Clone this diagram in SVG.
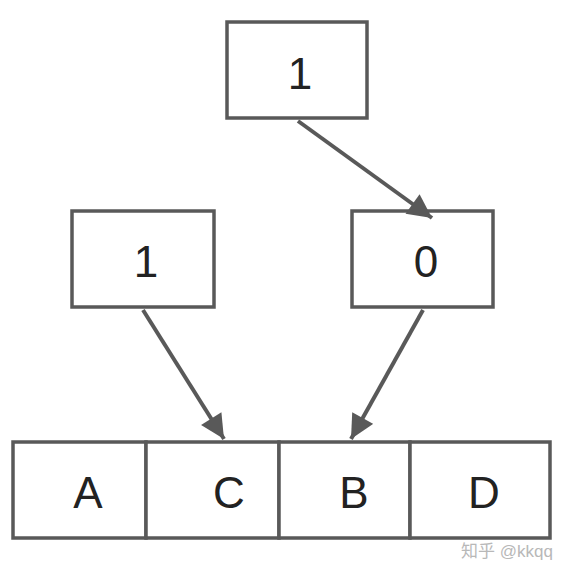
<svg xmlns="http://www.w3.org/2000/svg" width="570" height="578" viewBox="0 0 570 578">
<style>
.box{fill:#fff;stroke:#595959;stroke-width:3.5}
.lbl{font-family:"Liberation Sans",Arial,sans-serif;font-size:44px;fill:#222;text-anchor:middle}
.edge{stroke:#595959;stroke-width:4;fill:none;marker-end:url(#ah)}
.wm{font-family:"Liberation Sans","Noto Sans CJK SC",sans-serif;font-size:17px;fill:#b8b8b8}
</style>
<defs>
<marker id="ah" viewBox="0 0 10 10" refX="10" refY="5" markerWidth="6.5" markerHeight="6" markerUnits="strokeWidth" orient="auto">
<path d="M0,0 L10,5 L0,10 z" fill="#595959"/>
</marker>
</defs>
<rect width="570" height="578" fill="#fff"/>
<g id="top1"><rect class="box" x="227" y="22" width="140" height="96"/><text class="lbl" x="300" y="89">1</text></g>
<g id="left1"><rect class="box" x="72" y="211" width="142" height="96"/><text class="lbl" x="146" y="277">1</text></g>
<g id="right0"><rect class="box" x="352" y="211" width="141" height="96"/><text class="lbl" x="426" y="277">0</text></g>
<g id="cellA"><rect class="box" x="13" y="442" width="133" height="96"/><text class="lbl" x="88" y="508">A</text></g>
<g id="cellC"><rect class="box" x="146" y="442" width="133" height="96"/><text class="lbl" x="229" y="508">C</text></g>
<g id="cellB"><rect class="box" x="279" y="442" width="131" height="96"/><text class="lbl" x="354" y="508">B</text></g>
<g id="cellD"><rect class="box" x="410" y="442" width="140" height="96"/><text class="lbl" x="484" y="508">D</text></g>
<g id="connectors">
<line class="edge" x1="298" y1="121" x2="432" y2="218"/>
<line class="edge" x1="143" y1="310" x2="224" y2="439"/>
<line class="edge" x1="423" y1="310" x2="351" y2="439"/>
</g>
<text class="wm" x="461" y="557">知乎 @kkqq</text>
</svg>
